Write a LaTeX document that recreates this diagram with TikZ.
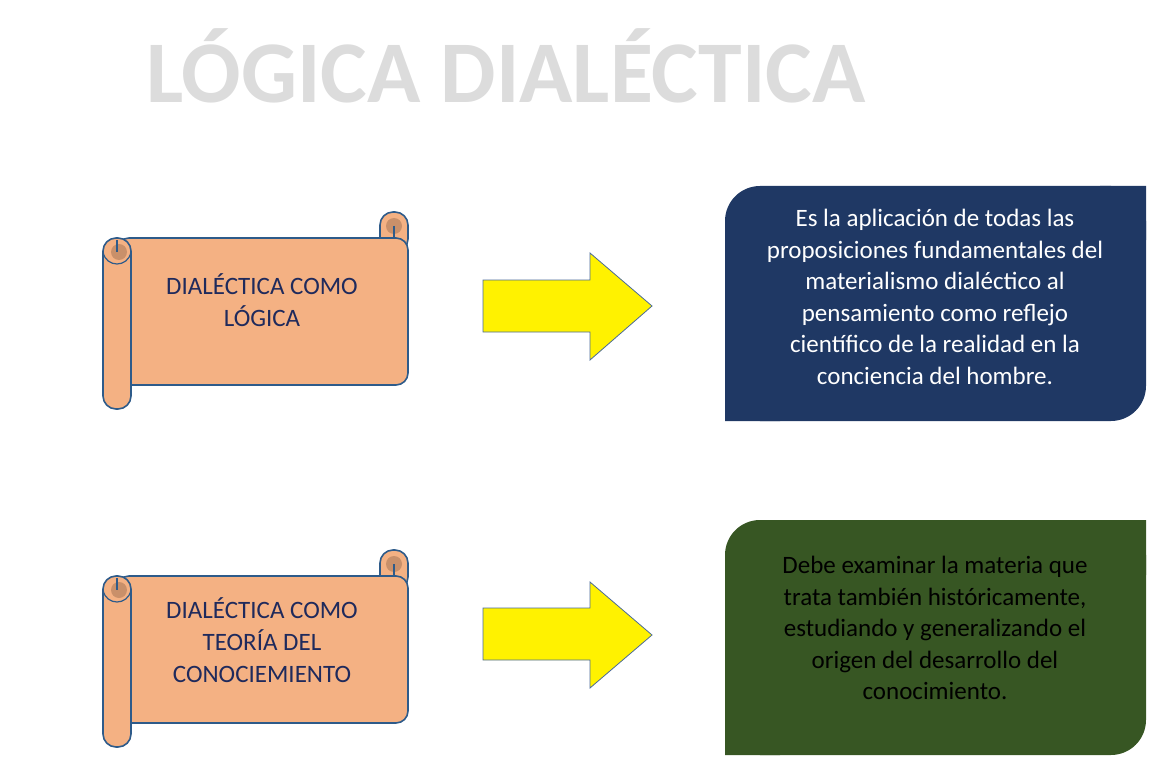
\documentclass[tikz,border=0pt]{standalone}
\usepackage{fontspec}
\setmainfont{Carlito}
\begin{document}
\begin{tikzpicture}[x=1pt,y=-1pt,
 scr/.style={fill=scrfill,draw=scrline,line width=1.6pt,line join=round},
 arr/.style={fill=yellow,draw=arrline,line width=0.8pt},
 txt/.style={text=scrtext,font=\fontsize{25}{32}\selectfont,align=center}]
\definecolor{scrfill}{HTML}{F4B183}
\definecolor{scrdark}{HTML}{C9906A}
\definecolor{scrline}{HTML}{2E5B8A}
\definecolor{scrtext}{HTML}{1F2A5C}
\definecolor{arrline}{HTML}{4A6A9A}
\definecolor{bluebox}{HTML}{1F3864}
\definecolor{greenbox}{HTML}{375623}
\useasboundingbox (0,0) rectangle (1163,773);
\node (title) at (506,66) {\fontsize{88}{90}\selectfont\bfseries\color[HTML]{DCDCDC}LÓGICA DIALÉCTICA};
\foreach \dy in {0,338}{
 \begin{scope}[yshift=-\dy]
 \draw[scr,rounded corners=13] (380,212) rectangle (408,252);
 \fill[scrdark] (394,226) circle[radius=8];
 \draw[scrline,line width=1.2pt] (394,226) -- (394,238);
 \draw[scr,rounded corners=12] (117,238) rectangle (408,385);
 \draw[scr,rounded corners=13] (103,238) rectangle (131,409);
 \fill[scrdark] (119,252) circle[radius=8];
 \draw[scrline,line width=1.2pt] (117,240) -- (117,252);
 \draw[scrline,line width=1.2pt] (103,252) .. controls (106,268) and (128,268) .. (131,252);
 \end{scope}
}
\node[txt] (s1) at (262,300) {DIALÉCTICA COMO\\LÓGICA};
\node[txt] (s2) at (262,640) {DIALÉCTICA COMO\\TEORÍA DEL\\CONOCIEMIENTO};
\draw[arr] (483,280) -- (590,280) -- (590,253) -- (652,306) -- (590,360) -- (590,332) -- (483,332) -- cycle;
\draw[arr] (483,608) -- (590,608) -- (590,582) -- (652,635) -- (590,688) -- (590,660) -- (483,660) -- cycle;
\fill[bluebox,rounded corners=35] (725,186) rectangle (1146,421);
\fill[bluebox] (1100,186) rectangle (1146,240) (725,370) rectangle (780,421);
\node[text=white,font=\fontsize{25}{31.5}\selectfont,align=center] (b1) at (935,297) {Es la aplicación de todas las\\proposiciones fundamentales del\\materialismo dialéctico al\\pensamiento como reflejo\\científico de la realidad en la\\conciencia del hombre.};
\fill[greenbox,rounded corners=35] (725,520) rectangle (1146,755);
\fill[greenbox] (1100,520) rectangle (1146,575) (725,700) rectangle (780,755);
\node[text=black,font=\fontsize{25}{31.5}\selectfont,align=center] (b2) at (935,628) {Debe examinar la materia que\\trata también históricamente,\\estudiando y generalizando el\\origen del desarrollo del\\conocimiento.};
\end{tikzpicture}
\end{document}
